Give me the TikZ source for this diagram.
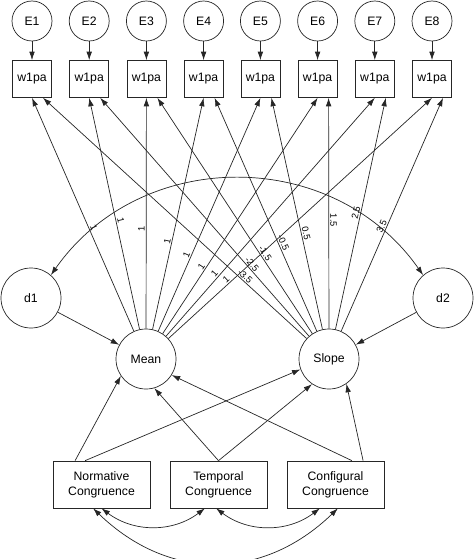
\documentclass[tikz,border=0pt]{standalone}
\usepackage{fontspec}
\setmainfont{Liberation Sans}
\usetikzlibrary{arrows.meta}

\begin{document}
\begin{tikzpicture}[
	font=\fontsize{8.7}{10.6}\selectfont,
	line width=0.5pt, draw=black!85,
	errore/.style={circle, draw, minimum size=1cm, inner sep=0pt},
	obs/.style={rectangle, draw, minimum width=0.975cm, minimum height=0.925cm, inner sep=0pt},
	lat/.style={circle, draw, minimum size=1.5cm, inner sep=0pt},
	pred/.style={rectangle, draw, minimum width=2.425cm, minimum height=1.175cm, align=center, inner sep=0pt},
	freccia/.style={-{Latex[length=6pt,width=4pt]}},
	doppia/.style={{Latex[length=6pt,width=4pt]}-{Latex[length=6pt,width=4pt]}},
	peso/.style={sloped, above, inner sep=0.8pt, font=\fontsize{6.6}{7.5}\selectfont}
	]
	\useasboundingbox (0,0) rectangle (11.85,-13.975);

	% Definisci i nodi
	\node[errore] (E1) at (0.8,-0.525) {E1};
	\node[errore] (E2) at (2.23,-0.525) {E2};
	\node[errore] (E3) at (3.66,-0.525) {E3};
	\node[errore] (E4) at (5.09,-0.525) {E4};
	\node[errore] (E5) at (6.51,-0.525) {E5};
	\node[errore] (E6) at (7.94,-0.525) {E6};
	\node[errore] (E7) at (9.37,-0.525) {E7};
	\node[errore] (E8) at (10.8,-0.525) {E8};

	\node[obs] (W1) at (0.8,-1.975) {w1pa};
	\node[obs] (W2) at (2.23,-1.975) {w1pa};
	\node[obs] (W3) at (3.66,-1.975) {w1pa};
	\node[obs] (W4) at (5.09,-1.975) {w1pa};
	\node[obs] (W5) at (6.51,-1.975) {w1pa};
	\node[obs] (W6) at (7.94,-1.975) {w1pa};
	\node[obs] (W7) at (9.37,-1.975) {w1pa};
	\node[obs] (W8) at (10.8,-1.975) {w1pa};

	\node[lat] (d1) at (0.775,-7.45) {d1};
	\node[lat] (d2) at (11.075,-7.45) {d2};
	\node[lat] (Mean) at (3.65,-8.975) {Mean};
	\node[lat] (Slope) at (8.225,-8.975) {Slope};

	\node[pred] (Norm) at (2.5375,-12.1125) {Normative\\Congruence};
	\node[pred] (Temp) at (5.4625,-12.1125) {Temporal\\Congruence};
	\node[pred] (Conf) at (8.3875,-12.1125) {Configural\\Congruence};

	% Collega i nodi
	\draw[freccia] (E1) -- (W1);
	\draw[freccia] (E2) -- (W2);
	\draw[freccia] (E3) -- (W3);
	\draw[freccia] (E4) -- (W4);
	\draw[freccia] (E5) -- (W5);
	\draw[freccia] (E6) -- (W6);
	\draw[freccia] (E7) -- (W7);
	\draw[freccia] (E8) -- (W8);

	% Mean
	\draw[freccia] (Mean) -- (W1.south) node[peso, pos=0.434] {1};
	\draw[freccia] (Mean) -- (W2.south) node[peso, pos=0.465] {1};
	\draw[freccia] (Mean) -- (W3.south) node[peso, pos=0.43] {1};
	\draw[freccia] (Mean) -- (W4.south) node[peso, pos=0.378] {1};
	\draw[freccia] (Mean) -- (W5.south) node[peso, pos=0.318] {1};
	\draw[freccia] (Mean) -- (W6.south) node[peso, pos=0.275] {1};
	\draw[freccia] (Mean) -- (W7.south) node[peso, pos=0.249] {1};
	\draw[freccia] (Mean) -- (W8.south) node[peso, pos=0.231] {1};

	% Slope
	\draw[freccia] (Slope) -- ([xshift=0.275cm]W1.south) node[peso, pos=0.245] {-3.5};
	\draw[freccia] (Slope) -- ([xshift=0.275cm]W2.south) node[peso, pos=0.29] {-2.5};
	\draw[freccia] (Slope) -- ([xshift=0.275cm]W3.south) node[peso, pos=0.33] {-1.5};
	\draw[freccia] (Slope) -- ([xshift=0.275cm]W4.south) node[peso, pos=0.37] {-0.5};
	\draw[freccia] (Slope) -- ([xshift=0.275cm]W5.south) node[peso, pos=0.41] {0.5};
	\draw[freccia] (Slope) -- ([xshift=0.275cm]W6.south) node[peso, pos=0.469] {1.5};
	\draw[freccia] (Slope) -- ([xshift=0.275cm]W7.south) node[peso, pos=0.5] {2.5};
	\draw[freccia] (Slope) -- ([xshift=0.275cm]W8.south) node[peso, pos=0.44] {3.5};

	\draw[doppia] (d1.49) to[bend left=55, looseness=1.08] (d2.131);
	\draw[freccia] (d1) -- (Mean);
	\draw[freccia] (d2) -- (Slope);

	% Predittori
	\draw[freccia] ([xshift=-0.66cm]Norm.north) -- (Mean.214);
	\draw[freccia] ([xshift=-0.41cm]Norm.north) -- (Slope.200);
	\draw[freccia] (Temp.north) -- (Mean.286);
	\draw[freccia] (Temp.north) -- (Slope.236);
	\draw[freccia] ([xshift=0.41cm]Conf.north) -- (Mean.328);
	\draw[freccia] ([xshift=0.69cm]Conf.north) -- (Slope.305);

	\draw[doppia] (Norm.south) to[bend right=37] ([xshift=-0.34cm]Temp.south);
	\draw[doppia] ([xshift=-0.06cm]Temp.south) to[bend right=37] ([xshift=-0.39cm]Conf.south);
	\draw[doppia] ([xshift=-0.21cm]Norm.south) to[bend right=44, looseness=1.1] ([xshift=0.06cm]Conf.south);
\end{tikzpicture}
\end{document}
